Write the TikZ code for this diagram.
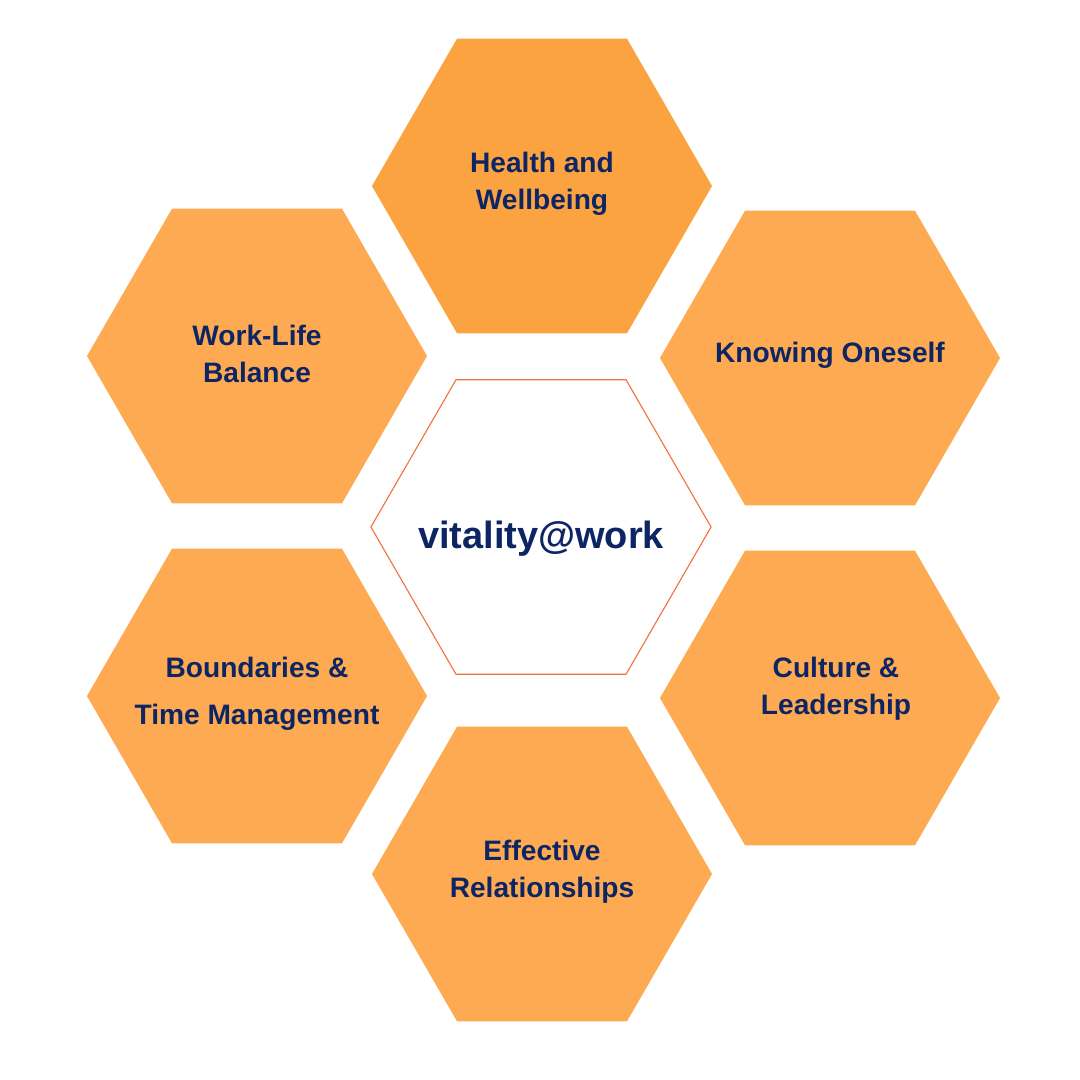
\documentclass[tikz,border=0pt]{standalone}
\usepackage{fontspec}
\setmainfont{Liberation Sans}
\usetikzlibrary{shapes.geometric}
\definecolor{honey}{HTML}{FEAA52}
\definecolor{honeytop}{HTML}{FBA241}
\definecolor{navytext}{HTML}{0D2563}
\definecolor{hubline}{HTML}{EE7440}
\begin{document}
\begin{tikzpicture}[x=0.025cm, y=-0.025cm,
  hexcell/.style={regular polygon, regular polygon sides=6, minimum size=8.5cm,
    inner sep=0pt, fill=honey},
  hubcell/.style={hexcell, fill=white, draw=hubline, line width=0.8pt},
  celltext/.style={text=navytext, align=center, yshift=0.06cm,
    font=\bfseries\fontsize{20}{26.3}\selectfont},
  hubtext/.style={text=navytext, yshift=-0.3cm,
    font=\bfseries\fontsize{27}{32}\selectfont}
]
\useasboundingbox (0,0) rectangle (1080,1080);
% centre cell
\node[hubcell] (hub) at (541,527) {};
\node[hubtext] (hublab) at (hub) {vitality@work};
% ring of six cells
\node[hexcell, fill=honeytop] (health) at (542,186) {};
\node[hexcell] (knowing) at (830,358) {};
\node[hexcell] (culture) at (830,698) {};
\node[hexcell] (relations) at (542,874) {};
\node[hexcell] (bounds) at (257,696) {};
\node[hexcell] (worklife) at (257,356) {};
% cell texts
\node[celltext] (healthlab) at (health) {Health and\\Wellbeing};
\node[celltext] (knowinglab) at (knowing) {Knowing Oneself};
\node[celltext, xshift=0.15cm, yshift=0.18cm] (culturelab) at (culture) {Culture \&\\Leadership};
\node[celltext] (relationslab) at (relations) {Effective\\Relationships};
\node[celltext] (boundslab) at (bounds) {Boundaries \&\\[7pt]Time Management};
\node[celltext] (worklifelab) at (worklife) {Work-Life\\Balance};
\end{tikzpicture}
\end{document}
